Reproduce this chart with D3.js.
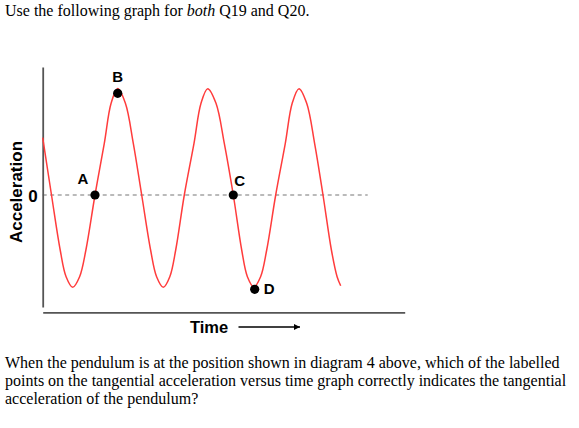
<!DOCTYPE html>
<html>
<head>
<meta charset="utf-8">
<script src="https://cdn.jsdelivr.net/npm/d3@7"></script>
<style>
  html, body { margin: 0; padding: 0; background: #fff; }
  svg { display: block; }
</style>
</head>
<body>
<svg id="chart" width="579" height="428"></svg>
<script>
// ---- data ----
const curveTime  = [0, 0.88, 1.75, 2.34, 3.0, 3.69, 4.32, 5.23, 6.16, 6.84, 7.5, 8.27, 9.06, 9.9,
                    10.79, 11.39, 12.06, 12.71, 13.3, 14.16, 15.13, 15.83, 16.5, 17.33, 18.16, 19.06,
                    19.9, 20.47, 21.11, 21.79, 22.4, 23.3, 24.26, 24.95, 25.63, 26.4, 27.19, 28.03,
                    28.87, 29.44, 29.8];
const curveAccel = [5.73, 0, -5.5, -8.17, -9.23, -8.17, -5.5, 0, 5.17, 9.17, 10.65, 9.17, 5.17, 0,
                    -5.5, -8.17, -9.23, -8.17, -5.5, 0, 5.17, 9.17, 10.63, 9.17, 5.17, 0,
                    -5.5, -8.17, -9.2, -8.17, -5.5, 0, 5.17, 9.17, 10.63, 9.17, 5.17, 0,
                    -5.5, -8.17, -9.07];
const pointLabels = ["A", "B", "C", "D"];
const pointTime   = [5.23, 7.5, 19.06, 21.2];
const pointAccel  = [0, 10.17, 0, -9.43];
const yTickValues = [0];
const zeroLineEnd = 32.5;
const xAxisTitle = "Time";
const yAxisTitle = "Acceleration";
const headerText = ["Use the following graph for ", "both", " Q19 and Q20."];
const questionLines = [
  "When the pendulum is at the position shown in diagram 4 above, which of the labelled",
  "points on the tangential acceleration versus time graph correctly indicates the tangential",
  "acceleration of the pendulum?"
];

// ---- drawing ----
const svg = d3.select("#chart");
const sans = "'Liberation Sans', Arial, sans-serif";
const serif = "'Liberation Serif', 'Times New Roman', serif";

const x = d3.scaleLinear().domain([0, 36.2]).range([42.7, 404.7]);
const y = d3.scaleLinear().domain([-11.2, 12.8]).range([307, 67]);

// header text
const ht = svg.append("text").attr("x", 5).attr("y", 16)
  .attr("font-family", serif).attr("font-size", 16).attr("fill", "#000");
ht.append("tspan").text(headerText[0]);
ht.append("tspan").attr("font-style", "italic").text(headerText[1]);
ht.append("tspan").text(headerText[2]);

// zero dashed line
svg.append("line")
  .attr("x1", x(0)).attr("x2", x(zeroLineEnd))
  .attr("y1", y(0)).attr("y2", y(0))
  .attr("stroke", "#777").attr("stroke-width", 1.2)
  .attr("stroke-dasharray", "4,3.5");

// y axis
const yAxis = svg.append("g")
  .attr("transform", `translate(${x(0)},0)`)
  .call(d3.axisLeft(y).tickValues(yTickValues).tickSize(0).tickSizeOuter(0).tickPadding(5).tickFormat(d3.format("d")));
yAxis.select(".domain").attr("stroke", "#555").attr("stroke-width", 1.8);
yAxis.selectAll(".tick text")
  .attr("font-family", sans).attr("font-size", 17).attr("font-weight", "bold").attr("fill", "#000")
  .attr("dy", "0.4em");

// x axis
const xAxis = svg.append("g")
  .attr("transform", `translate(0,312.3)`)
  .call(d3.axisBottom(x).tickValues([]).tickSizeOuter(0));
xAxis.select(".domain").attr("stroke", "#555").attr("stroke-width", 1.8);

// axis titles
svg.append("text")
  .attr("transform", "translate(21.5,192) rotate(-90)")
  .attr("text-anchor", "middle")
  .attr("font-family", sans).attr("font-size", 17).attr("font-weight", "bold").attr("fill", "#000")
  .text(yAxisTitle);

svg.append("text")
  .attr("x", 190).attr("y", 332.5)
  .attr("font-family", sans).attr("font-size", 16.5).attr("font-weight", "bold").attr("fill", "#000")
  .text(xAxisTitle);

// arrow
svg.append("defs").append("marker")
  .attr("id", "arrowhead").attr("viewBox", "0 0 10 10")
  .attr("refX", 10).attr("refY", 5)
  .attr("markerWidth", 8).attr("markerHeight", 6)
  .attr("markerUnits", "userSpaceOnUse")
  .attr("orient", "auto")
  .append("path").attr("d", "M0,0 L10,5 L0,10 Z").attr("fill", "#000");
svg.append("line")
  .attr("x1", 238.5).attr("x2", 300).attr("y1", 327).attr("y2", 327)
  .attr("stroke", "#000").attr("stroke-width", 1.3)
  .attr("marker-end", "url(#arrowhead)");

// curve
const curveData = curveTime.map((t, i) => ({ t, v: curveAccel[i] }));
const line = d3.line().x(d => x(d.t)).y(d => y(d.v)).curve(d3.curveCatmullRom.alpha(0.5));
svg.append("path")
  .datum(curveData)
  .attr("d", line)
  .attr("fill", "none")
  .attr("stroke", "#ff3c3c")
  .attr("stroke-width", 1.5)
  .attr("stroke-linejoin", "round");

// labelled points
const pts = pointLabels.map((lab, i) => ({ lab, t: pointTime[i], v: pointAccel[i] }));
const labelOffsets = { A: [-12, -11, "middle"], B: [0, -11.5, "middle"], C: [1, -9, "start"], D: [9, 4.5, "start"] };
svg.selectAll("circle.pt").data(pts).enter().append("circle")
  .attr("class", "pt")
  .attr("cx", d => x(d.t)).attr("cy", d => y(d.v)).attr("r", 4.6)
  .attr("fill", "#000");
svg.selectAll("text.pt").data(pts).enter().append("text")
  .attr("class", "pt")
  .attr("x", d => x(d.t) + labelOffsets[d.lab][0])
  .attr("y", d => y(d.v) + labelOffsets[d.lab][1])
  .attr("text-anchor", d => labelOffsets[d.lab][2])
  .attr("font-family", sans).attr("font-size", 15).attr("font-weight", "bold").attr("fill", "#000")
  .text(d => d.lab);

// question text
svg.selectAll("text.q").data(questionLines).enter().append("text")
  .attr("class", "q")
  .attr("x", 5).attr("y", (d, i) => 367.5 + i * 18)
  .attr("font-family", serif).attr("font-size", 16).attr("fill", "#000")
  .text(d => d);
</script>
</body>
</html>
